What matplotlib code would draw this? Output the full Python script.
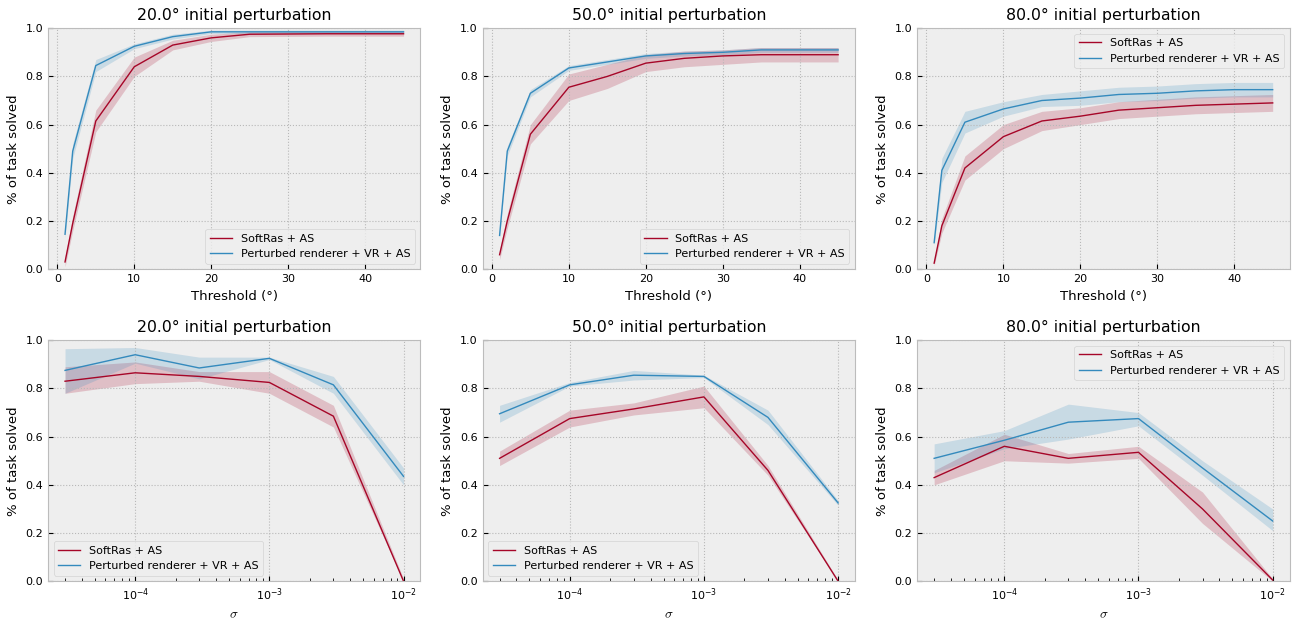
import numpy as np
import matplotlib
matplotlib.use("Agg")
import matplotlib.pyplot as plt

plt.style.use("bmh")
plt.rcParams["font.size"] = 8
plt.rcParams["grid.linestyle"] = ":"
plt.rcParams["grid.color"] = "#b8b8b8"
plt.rcParams["grid.linewidth"] = 0.8

RED = "#A60628"
BLUE = "#348ABD"
labels = ["SoftRas + AS", "Perturbed renderer + VR + AS"]
titles = ["20.0° initial perturbation", "50.0° initial perturbation", "80.0° initial perturbation"]

thresholds = [1, 2, 5, 10, 15, 20, 25, 30, 35, 40, 45]
sigmas = [3e-5, 1e-4, 3e-4, 1e-3, 3e-3, 1e-2]

# Top row: threshold curves (mean, low, high)
t20_soft = [0.03, 0.19, 0.615, 0.84, 0.93, 0.96, 0.975, 0.976, 0.977, 0.977, 0.977]
t20_soft_lo = [0.01, 0.16, 0.57, 0.80, 0.91, 0.945, 0.965, 0.966, 0.967, 0.967, 0.967]
t20_soft_hi = [0.05, 0.22, 0.66, 0.88, 0.95, 0.975, 0.985, 0.986, 0.987, 0.987, 0.987]
t20_pert = [0.145, 0.49, 0.845, 0.925, 0.965, 0.985, 0.985, 0.985, 0.985, 0.985, 0.985]
t20_pert_lo = [0.13, 0.46, 0.82, 0.915, 0.955, 0.978, 0.978, 0.978, 0.978, 0.978, 0.978]
t20_pert_hi = [0.16, 0.52, 0.87, 0.935, 0.975, 0.992, 0.992, 0.992, 0.992, 0.992, 0.992]

t50_soft = [0.06, 0.20, 0.56, 0.755, 0.80, 0.855, 0.875, 0.885, 0.89, 0.89, 0.89]
t50_soft_lo = [0.04, 0.17, 0.52, 0.70, 0.75, 0.82, 0.84, 0.85, 0.86, 0.86, 0.86]
t50_soft_hi = [0.08, 0.23, 0.60, 0.81, 0.85, 0.89, 0.905, 0.91, 0.92, 0.92, 0.92]
t50_pert = [0.14, 0.49, 0.73, 0.835, 0.86, 0.885, 0.895, 0.90, 0.91, 0.91, 0.91]
t50_pert_lo = [0.13, 0.47, 0.715, 0.825, 0.85, 0.875, 0.885, 0.89, 0.90, 0.90, 0.90]
t50_pert_hi = [0.15, 0.51, 0.745, 0.845, 0.87, 0.895, 0.905, 0.91, 0.92, 0.92, 0.92]

t80_soft = [0.025, 0.18, 0.42, 0.55, 0.615, 0.635, 0.66, 0.67, 0.68, 0.685, 0.69]
t80_soft_lo = [0.015, 0.15, 0.37, 0.50, 0.575, 0.60, 0.625, 0.635, 0.645, 0.65, 0.655]
t80_soft_hi = [0.035, 0.21, 0.47, 0.60, 0.655, 0.67, 0.695, 0.705, 0.715, 0.72, 0.725]
t80_pert = [0.11, 0.41, 0.61, 0.665, 0.70, 0.71, 0.725, 0.73, 0.74, 0.745, 0.745]
t80_pert_lo = [0.10, 0.36, 0.565, 0.635, 0.675, 0.68, 0.695, 0.70, 0.71, 0.715, 0.715]
t80_pert_hi = [0.12, 0.46, 0.655, 0.695, 0.725, 0.74, 0.755, 0.76, 0.77, 0.775, 0.775]

# Bottom row: sigma curves
s20_soft = [0.83, 0.865, 0.85, 0.825, 0.685, 0.0]
s20_soft_lo = [0.78, 0.82, 0.83, 0.78, 0.64, 0.0]
s20_soft_hi = [0.89, 0.91, 0.87, 0.87, 0.73, 0.01]
s20_pert = [0.875, 0.94, 0.885, 0.925, 0.815, 0.435]
s20_pert_lo = [0.78, 0.905, 0.84, 0.92, 0.78, 0.40]
s20_pert_hi = [0.965, 0.97, 0.93, 0.93, 0.85, 0.47]

s50_soft = [0.51, 0.675, 0.715, 0.765, 0.46, 0.0]
s50_soft_lo = [0.48, 0.64, 0.69, 0.72, 0.44, 0.0]
s50_soft_hi = [0.54, 0.71, 0.74, 0.81, 0.48, 0.005]
s50_pert = [0.695, 0.815, 0.855, 0.85, 0.68, 0.325]
s50_pert_lo = [0.66, 0.81, 0.835, 0.845, 0.65, 0.315]
s50_pert_hi = [0.73, 0.825, 0.875, 0.855, 0.71, 0.335]

s80_soft = [0.43, 0.56, 0.51, 0.535, 0.30, 0.005]
s80_soft_lo = [0.40, 0.50, 0.49, 0.51, 0.24, 0.0]
s80_soft_hi = [0.46, 0.61, 0.53, 0.56, 0.37, 0.01]
s80_pert = [0.51, 0.585, 0.66, 0.675, 0.47, 0.25]
s80_pert_lo = [0.45, 0.55, 0.59, 0.645, 0.44, 0.21]
s80_pert_hi = [0.57, 0.625, 0.735, 0.70, 0.50, 0.30]

top = [
    (t20_soft, t20_soft_lo, t20_soft_hi, t20_pert, t20_pert_lo, t20_pert_hi, "lower right"),
    (t50_soft, t50_soft_lo, t50_soft_hi, t50_pert, t50_pert_lo, t50_pert_hi, "lower right"),
    (t80_soft, t80_soft_lo, t80_soft_hi, t80_pert, t80_pert_lo, t80_pert_hi, "upper right"),
]
bottom = [
    (s20_soft, s20_soft_lo, s20_soft_hi, s20_pert, s20_pert_lo, s20_pert_hi, "lower left"),
    (s50_soft, s50_soft_lo, s50_soft_hi, s50_pert, s50_pert_lo, s50_pert_hi, "lower left"),
    (s80_soft, s80_soft_lo, s80_soft_hi, s80_pert, s80_pert_lo, s80_pert_hi, "upper right"),
]

fig, axes = plt.subplots(2, 3, figsize=(13, 6.27), dpi=100)
fig.subplots_adjust(left=0.037, right=0.992, bottom=0.073, top=0.955, wspace=0.167, hspace=0.295)

def draw(ax, x, d, title, xlabel, logx):
    sm, slo, shi, pm, plo, phi, loc = d
    ax.plot(x, sm, color=RED, lw=1.0, label=labels[0])
    ax.fill_between(x, slo, shi, color=RED, alpha=0.2, lw=0)
    ax.plot(x, pm, color=BLUE, lw=1.0, label=labels[1])
    ax.fill_between(x, plo, phi, color=BLUE, alpha=0.2, lw=0)
    if logx:
        ax.set_xscale("log")
    ax.set_ylim(0, 1.0)
    ax.set_title(title, fontsize=11.3)
    ax.set_xlabel(xlabel, fontsize=9.5)
    ax.set_ylabel("% of task solved", fontsize=9.5)
    ax.tick_params(labelsize=8)
    ax.legend(loc=loc, fontsize=8)

for i in range(3):
    draw(axes[0, i], thresholds, top[i], titles[i], "Threshold (°)", False)
    draw(axes[1, i], sigmas, bottom[i], titles[i], r"$\sigma$", True)

fig.savefig("out.png", dpi=100)
